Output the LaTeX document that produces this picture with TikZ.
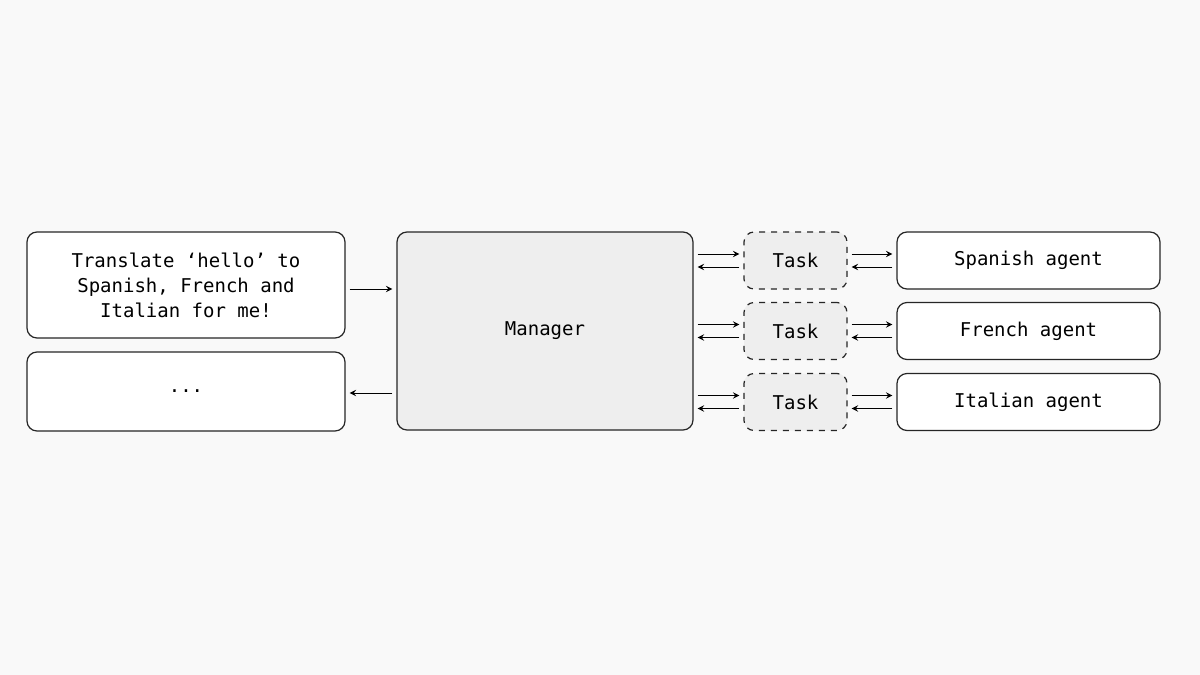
\documentclass[tikz,border=0pt]{standalone}
\usepackage{fontspec}
\setmonofont{DejaVu Sans Mono}
\usetikzlibrary{positioning,patterns}
\definecolor{bgcol}{HTML}{F9F9F9}
\definecolor{boxfill}{HTML}{EEEEEE}
\tikzset{
  box/.style={draw=black!85, rounded corners=5pt, fill=white, font=\ttfamily\fontsize{9.5}{12.5}\selectfont, align=center, inner sep=0pt, line width=0.6pt},
  taskbox/.style={box, dashed, fill=boxfill, minimum width=51.5pt, minimum height=28.5pt},
  agentbox/.style={box, minimum width=131.5pt, minimum height=28.5pt},
  link/.style={->, >=stealth, line width=0.45pt, shorten >=2pt, shorten <=2pt}
}
\begin{document}
\begin{tikzpicture}[x=0.5pt, y=-0.5pt]
    \fill[bgcol] (0,0) rectangle (1200,675);
    \useasboundingbox (0,0) rectangle (1200,675);

    % Left column
    \node[box, minimum width=159pt, minimum height=53pt] (ask) at (186,285)
      {Translate ‘hello’ to\\Spanish, French and\\Italian for me!};
    \node[box, minimum width=159pt, minimum height=39.5pt] (out) at (186,391.5) {...};

    % Manager
    \node[box, fill=boxfill, minimum width=148pt, minimum height=99pt] (mgr) at (545,331) {Manager};

    % Tasks and agents
    \foreach \i/\y/\lang in {1/260.5/Spanish, 2/331/French, 3/402/Italian} {
      \node[taskbox] (task\i) at (795.5,\y) {Task};
      \node[agentbox] (agent\i) at (1028.5,\y) {\lang\ agent};
      \coordinate (tu\i) at ([yshift=3.25pt]task\i.west);
      \coordinate (tl\i) at ([yshift=-3.25pt]task\i.west);
      \coordinate (au\i) at ([yshift=3.25pt]agent\i.west);
      \coordinate (al\i) at ([yshift=-3.25pt]agent\i.west);
      \draw[link] (tu\i -| mgr.east) -- (tu\i);
      \draw[link] (tl\i) -- (tl\i -| mgr.east);
      \draw[link] (au\i -| task\i.east) -- (au\i);
      \draw[link] (al\i) -- (al\i -| task\i.east);
    }

    % Input and output
    \coordinate (in) at (ask.east |- 0,289);
    \coordinate (back) at (out.east |- 0,393);
    \draw[link] (in) -- (in -| mgr.west);
    \draw[link] (back -| mgr.west) -- (back);
\end{tikzpicture}
\end{document}
